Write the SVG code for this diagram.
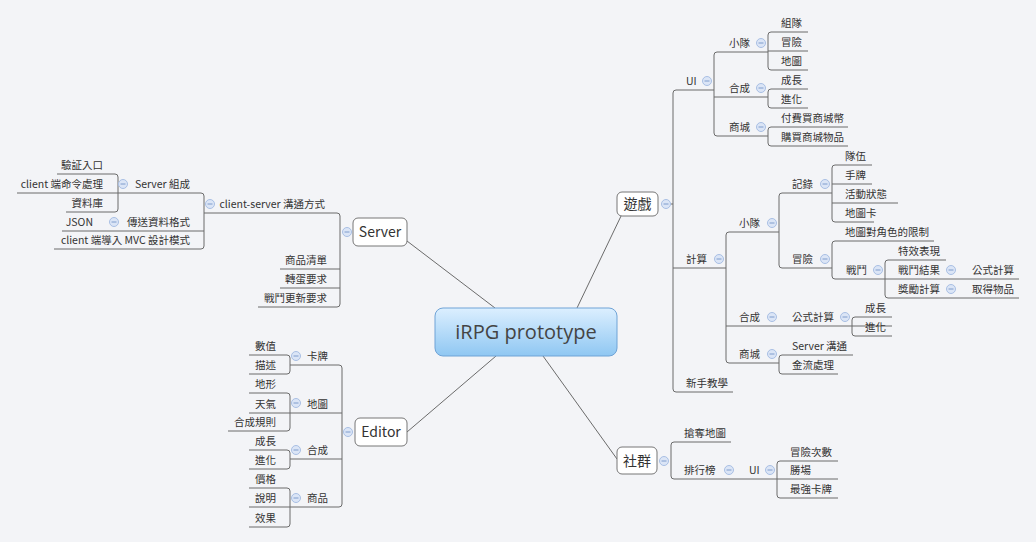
<svg xmlns="http://www.w3.org/2000/svg" width="1036" height="542" viewBox="0 0 1036 542">
<defs>
<linearGradient id="cg" x1="0" y1="0" x2="0" y2="1"><stop offset="0" stop-color="#dcefff"/><stop offset="1" stop-color="#8fc7f2"/></linearGradient>
<g id="c"><circle r="4.5" fill="#dbe5f6" stroke="#a8bfe4" stroke-width="1"/><line x1="-2.5" x2="2.5" y1="0" y2="0" stroke="#7f9ccc" stroke-width="1"/></g>
</defs>
<style>
.l{fill:none;stroke:#6b6b6b;stroke-width:1}
.t{font-family:"Noto Sans CJK TC","Liberation Sans",sans-serif;font-size:10.5px;fill:#333}
.e{text-anchor:end}
.n{fill:#fff;stroke:#777;stroke-width:1}
.nt{font-family:"Noto Sans CJK TC","Open Sans",sans-serif;font-size:14px;fill:#333;text-anchor:middle}
</style>
<rect width="1036" height="542" fill="#f3f4f7"/>
<g id="connectors" class="l">
<path d="M577 308L622 214M495 308L407 241M496 356L407 432M543 356L617 459"/>
<path d="M671 204H673M714 90H676Q673 90 673 93V389Q673 392 676 392H733M673 268H726"/>
<path d="M768 52H717Q714 52 714 55V133Q714 136 717 136H768M714 97H768"/>
<path d="M808 32H771Q768 32 768 35V67Q768 70 771 70H808M768 51H808"/>
<path d="M808 89H771Q768 89 768 92V105Q768 108 771 108H808"/>
<path d="M848 127H771Q768 127 768 130V143Q768 146 771 146H848"/>
<path d="M779 232H729Q726 232 726 235V360Q726 363 729 363H779M726 326H892"/>
<path d="M832 193H782Q779 193 779 196V265Q779 268 782 268H832"/>
<path d="M872 165H835Q832 165 832 168V219Q832 222 835 222H874M832 184H872M832 203H898"/>
<path d="M934 241H835Q832 241 832 244V276Q832 279 835 279H885"/>
<path d="M946 260H888Q885 260 885 263V295Q885 298 888 298H1019M885 279H1019"/>
<path d="M892 317H855Q852 317 852 320V333Q852 336 855 336H892"/>
<path d="M853 355H782Q779 355 779 358V371Q779 374 782 374H838"/>
<path d="M731 442H674Q671 442 671 445V476Q671 479 674 479H777"/>
<path d="M838 461H780Q777 461 777 464V495Q777 498 780 498H838M777 479H838"/>
<path d="M204 213H337Q340 213 340 216V304Q340 307 337 307H258M340 269H280M340 288H280"/>
<path d="M118 193H201Q204 193 204 196V246Q204 249 201 249H54M204 231H62"/>
<path d="M57 174H115Q118 174 118 177V209Q118 212 115 212H66M118 193H17"/>
<path d="M290 365H339Q342 365 342 368V504Q342 507 339 507H290M290 413H342M290 459H342"/>
<path d="M249 355H287Q290 355 290 358V371Q290 374 287 374H249"/>
<path d="M249 393H287Q290 393 290 396V428Q290 431 287 431H228M290 413H249"/>
<path d="M249 450H287Q290 450 290 453V466Q290 469 287 469H249"/>
<path d="M249 488H287Q290 488 290 491V524Q290 527 287 527H249M290 507H249"/>
</g>
<g id="center"><rect x="435" y="308" width="182" height="48" rx="8" fill="url(#cg)" stroke="#6fa3d6"/><text x="526" y="339" text-anchor="middle" font-family="Open Sans,Liberation Sans,sans-serif" font-size="20" fill="#444">iRPG prototype</text></g>
<g id="game"><rect class="n" x="617" y="192" width="41" height="24" rx="5"/><text class="nt" x="637.5" y="209">遊戲</text></g>
<g id="social"><rect class="n" x="617" y="447" width="40" height="27" rx="5"/><text class="nt" x="637" y="466">社群</text></g>
<g id="server"><rect class="n" x="353" y="218" width="54" height="28" rx="5"/><text class="nt" x="380" y="237">Server</text></g>
<g id="editor"><rect class="n" x="355" y="418" width="52" height="28" rx="5"/><text class="nt" x="381" y="437">Editor</text></g>
<g id="toggles">
<use href="#c" x="666" y="204"/><use href="#c" x="707" y="81"/><use href="#c" x="761" y="43"/><use href="#c" x="761" y="88"/><use href="#c" x="761" y="127"/>
<use href="#c" x="719" y="259"/><use href="#c" x="772" y="223"/><use href="#c" x="825" y="184"/><use href="#c" x="825" y="259"/><use href="#c" x="878" y="270"/><use href="#c" x="951" y="270"/><use href="#c" x="951" y="289"/><use href="#c" x="772" y="317"/><use href="#c" x="845" y="317"/><use href="#c" x="772" y="354"/>
<use href="#c" x="664" y="461"/><use href="#c" x="729" y="470"/><use href="#c" x="770" y="470"/>
<use href="#c" x="347" y="232"/><use href="#c" x="210" y="204"/><use href="#c" x="123" y="184"/><use href="#c" x="114" y="222"/>
<use href="#c" x="348" y="432"/><use href="#c" x="296" y="356"/><use href="#c" x="296" y="403"/><use href="#c" x="296" y="450"/><use href="#c" x="296" y="498"/>
</g>
<g id="labels" class="t">
<text x="686" y="85">UI</text><text x="729" y="47">小隊</text><text x="729" y="92">合成</text><text x="729" y="131">商城</text>
<text x="781" y="27">組隊</text><text x="781" y="46">冒險</text><text x="781" y="65">地圖</text><text x="781" y="84">成長</text><text x="781" y="103">進化</text><text x="781" y="122">付費買商城幣</text><text x="781" y="141">購買商城物品</text>
<text x="686" y="263">計算</text><text x="686" y="387">新手教學</text><text x="739" y="227">小隊</text><text x="739" y="321">合成</text><text x="739" y="358">商城</text>
<text x="792" y="188">記錄</text><text x="792" y="263">冒險</text>
<text x="845" y="160">隊伍</text><text x="845" y="179">手牌</text><text x="845" y="198">活動狀態</text><text x="845" y="217">地圖卡</text><text x="845" y="236">地圖對角色的限制</text>
<text x="846" y="274">戰鬥</text><text x="898" y="255">特效表現</text><text x="898" y="274">戰鬥結果</text><text x="972" y="274">公式計算</text><text x="898" y="293">獎勵計算</text><text x="972" y="293">取得物品</text>
<text x="792" y="321">公式計算</text><text x="865" y="312">成長</text><text x="865" y="331">進化</text><text x="792" y="350">Server 溝通</text><text x="792" y="369">金流處理</text>
<text x="684" y="437">搶奪地圖</text><text x="684" y="474">排行榜</text><text x="749" y="474">UI</text><text x="790" y="456">冒險次數</text><text x="790" y="474">勝場</text><text x="790" y="493">最強卡牌</text>
<g class="e">
<text x="325" y="208">client-server 溝通方式</text><text x="327" y="264">商品清單</text><text x="327" y="283">轉蛋要求</text><text x="327" y="302">戰鬥更新要求</text>
<text x="190" y="188">Server 組成</text><text x="190" y="226">傳送資料格式</text><text x="93" y="226">JSON</text><text x="190" y="244">client 端導入 MVC 設計模式</text>
<text x="103" y="169">驗証入口</text><text x="103" y="188">client 端命令處理</text><text x="103" y="207">資料庫</text>
<text x="328" y="360">卡牌</text><text x="328" y="408">地圖</text><text x="328" y="454">合成</text><text x="328" y="502">商品</text>
<text x="276" y="350">數值</text><text x="276" y="369">描述</text><text x="276" y="388">地形</text><text x="276" y="408">天氣</text><text x="276" y="426">合成規則</text>
<text x="276" y="445">成長</text><text x="276" y="464">進化</text><text x="276" y="483">價格</text><text x="276" y="502">說明</text><text x="276" y="522">效果</text>
</g>
</g>
</svg>
